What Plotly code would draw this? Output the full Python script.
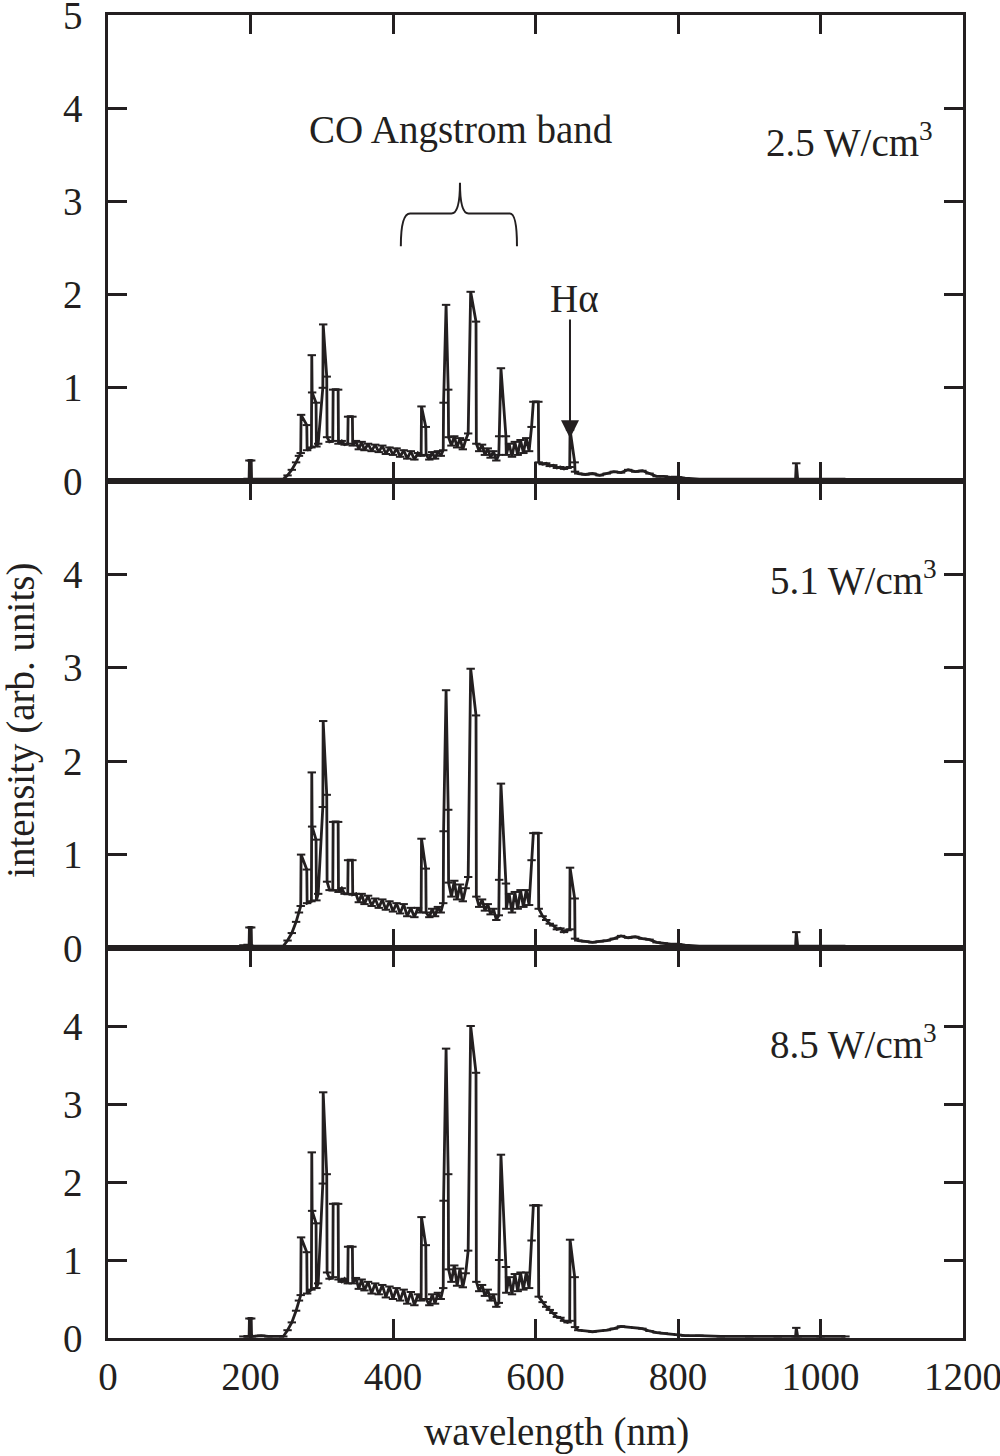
import plotly.graph_objects as go

# ---------------- data ----------------
WAVELENGTH = [190, 198, 198.5, 201, 201.5, 215, 225, 246, 252, 258, 264, 268, 270.5, 271, 279, 279.5,
              285.5, 286, 286.5, 292, 292.5, 295, 301.5, 302, 307, 307.5, 311, 315.5, 316, 323, 323.5,
              328, 332, 336.5, 337, 343, 343.5, 348, 352, 356, 360, 365, 370, 375, 380, 385, 390, 395,
              400, 405, 410, 415, 420, 425, 430, 435, 439.5, 440, 446, 446.5, 451, 455, 459, 463, 467,
              470.5, 471, 474.5, 477.5, 478, 482, 486, 490, 494, 498, 502, 505.5, 509, 516.5, 517, 521,
              525, 529, 533, 537, 541, 545, 548.5, 549, 551.5, 558.5, 559, 563, 567, 571, 575, 579, 583,
              587, 591, 594.5, 597, 604, 604.5, 610, 615, 620, 625, 630, 635, 640, 645, 648, 648.5, 655,
              655.5, 660, 670, 680, 690, 700, 710, 720, 730, 740, 750, 760, 770, 780, 790, 800, 810,
              830, 860, 900, 940, 965, 966, 968, 1000, 1035]

I_25 = [0.02, 0.02, 0.22, 0.22, 0.02, 0.02, 0.02, 0.02, 0.06, 0.12, 0.20, 0.27, 0.30, 0.71, 0.60, 0.33,
        0.36, 1.35, 0.95, 0.84, 0.37, 0.40, 1.00, 1.68, 1.12, 0.47, 0.42, 0.43, 0.98, 0.98, 0.40,
        0.43, 0.39, 0.40, 0.69, 0.69, 0.38, 0.43, 0.34, 0.42, 0.33, 0.40, 0.32, 0.39, 0.31, 0.38, 0.29, 0.36,
        0.28, 0.35, 0.26, 0.33, 0.24, 0.32, 0.23, 0.30, 0.27, 0.80, 0.58, 0.28, 0.23, 0.31, 0.24, 0.32, 0.27,
        0.33, 0.84, 1.89, 0.98, 0.47, 0.38, 0.48, 0.36, 0.46, 0.34, 0.44, 0.51, 2.03, 1.71, 0.40, 0.32,
        0.39, 0.28, 0.35, 0.25, 0.32, 0.22, 0.28, 0.48, 1.21, 0.48, 0.28, 0.40, 0.26, 0.42, 0.28, 0.44, 0.30,
        0.46, 0.32, 0.58, 0.85, 0.85, 0.20, 0.18, 0.19, 0.16, 0.17, 0.14, 0.15, 0.13, 0.14, 0.15, 0.55, 0.20,
        0.10, 0.08, 0.07, 0.08, 0.06, 0.08, 0.10, 0.09, 0.12, 0.10, 0.11, 0.08, 0.05, 0.05, 0.04, 0.04, 0.03,
        0.02, 0.02, 0.02, 0.02, 0.02, 0.19, 0.02, 0.02, 0.02]

I_51 = [0.03, 0.03, 0.22, 0.22, 0.02, 0.02, 0.02, 0.02, 0.08, 0.16, 0.28, 0.38, 0.45, 1.00, 0.84, 0.48,
        0.50, 1.88, 1.30, 1.16, 0.51, 0.58, 1.51, 2.43, 1.64, 0.71, 0.62, 0.62, 1.35, 1.35, 0.60,
        0.64, 0.58, 0.58, 0.94, 0.94, 0.57, 0.58, 0.49, 0.58, 0.47, 0.56, 0.45, 0.53, 0.43, 0.52, 0.41, 0.50,
        0.39, 0.48, 0.37, 0.47, 0.34, 0.43, 0.33, 0.43, 0.38, 1.17, 0.85, 0.38, 0.33, 0.42, 0.34, 0.44, 0.38,
        0.48, 1.25, 2.76, 1.48, 0.70, 0.55, 0.72, 0.52, 0.68, 0.50, 0.64, 0.76, 2.99, 2.49, 0.55, 0.44,
        0.52, 0.40, 0.47, 0.36, 0.42, 0.30, 0.35, 0.73, 1.76, 0.69, 0.42, 0.58, 0.38, 0.60, 0.42, 0.62, 0.44,
        0.62, 0.46, 0.94, 1.23, 1.23, 0.42, 0.34, 0.30, 0.26, 0.24, 0.20, 0.21, 0.17, 0.19, 0.20, 0.86, 0.53,
        0.10, 0.08, 0.07, 0.06, 0.07, 0.08, 0.10, 0.13, 0.11, 0.12, 0.10, 0.09, 0.06, 0.05, 0.04, 0.04, 0.03,
        0.02, 0.02, 0.02, 0.02, 0.02, 0.17, 0.02, 0.02, 0.02]

I_85 = [0.02, 0.02, 0.25, 0.25, 0.02, 0.03, 0.02, 0.02, 0.10, 0.20, 0.35, 0.48, 0.55, 1.29, 1.10, 0.57,
        0.62, 2.38, 1.63, 1.47, 0.64, 0.70, 1.98, 3.15, 2.10, 0.84, 0.76, 0.78, 1.72, 1.72, 0.75,
        0.72, 0.76, 0.70, 1.17, 1.17, 0.70, 0.77, 0.63, 0.75, 0.61, 0.72, 0.57, 0.70, 0.56, 0.68, 0.52, 0.66,
        0.50, 0.64, 0.48, 0.62, 0.44, 0.59, 0.42, 0.56, 0.48, 1.55, 1.19, 0.50, 0.42, 0.56, 0.44, 0.58, 0.50,
        0.64, 1.76, 3.71, 2.10, 0.88, 0.72, 0.93, 0.67, 0.89, 0.65, 0.83, 1.12, 4.00, 3.40, 0.72, 0.60,
        0.68, 0.54, 0.62, 0.48, 0.56, 0.40, 0.45, 1.00, 2.35, 0.91, 0.58, 0.78, 0.56, 0.82, 0.60, 0.84, 0.62,
        0.84, 0.64, 1.25, 1.70, 1.70, 0.53, 0.46, 0.40, 0.36, 0.32, 0.27, 0.26, 0.22, 0.20, 0.22, 1.26, 0.78,
        0.14, 0.10, 0.09, 0.08, 0.09, 0.10, 0.12, 0.15, 0.14, 0.13, 0.12, 0.09, 0.07, 0.06, 0.05, 0.04, 0.03,
        0.03, 0.02, 0.02, 0.02, 0.02, 0.13, 0.02, 0.02, 0.02]

POWER_LABELS = ["2.5 W/cm<sup>3</sup>", "5.1 W/cm<sup>3</sup>", "8.5 W/cm<sup>3</sup>"]
X_TICKS = [0, 200, 400, 600, 800, 1000, 1200]
Y_TICKS_TOP = [0, 1, 2, 3, 4, 5]
Y_TICKS = [0, 1, 2, 3, 4]

# ---------------- styling ----------------
INK = "#231f20"
FONT = dict(family="Liberation Serif, Times New Roman, serif", size=39, color=INK)

H_TOTAL = 1323.0
D1 = (1338 - 481) / H_TOTAL
D2 = (1338 - 948) / H_TOTAL

fig = go.Figure()
series = [I_25, I_51, I_85]
for i, vals in enumerate(series):
    sfx = "" if i == 0 else str(i + 1)
    fig.add_trace(go.Scatter(x=WAVELENGTH, y=vals, mode="lines+markers",
                             line=dict(color=INK, width=2.8),
                             marker=dict(symbol="line-ew", size=6, color=INK,
                                         line=dict(color=INK, width=2)),
                             xaxis="x" + sfx, yaxis="y" + sfx,
                             showlegend=False, hoverinfo="skip"))

axis_common = dict(showline=True, linewidth=2.5, linecolor=INK, mirror="ticks",
                   ticks="inside", ticklen=19, tickwidth=2.5, tickcolor=INK,
                   showgrid=False, zeroline=False, tickfont=FONT,
                   automargin=False, ticklabeloverflow="allow")

fig.update_layout(
    template="none",
    width=1000, height=1456,
    margin=dict(l=108, r=37, t=15, b=118, autoexpand=False),
    paper_bgcolor="white", plot_bgcolor="white",
    font=FONT,
    xaxis=dict(domain=[0, 1], anchor="y", range=[0, 1200], tickvals=X_TICKS,
               showticklabels=False, **axis_common),
    xaxis2=dict(domain=[0, 1], anchor="y2", matches="x", range=[0, 1200], tickvals=X_TICKS,
                showticklabels=False, **axis_common),
    xaxis3=dict(domain=[0, 1], anchor="y3", matches="x", range=[0, 1200], tickvals=X_TICKS,
                showticklabels=True, ticklabelstandoff=2, **axis_common),
    yaxis=dict(domain=[D1, 1], anchor="x", range=[0, 5], tickvals=Y_TICKS_TOP,
               ticklabelstandoff=15, **axis_common),
    yaxis2=dict(domain=[D2, D1], anchor="x2", range=[0, 5], tickvals=Y_TICKS,
                ticklabelstandoff=15, **axis_common),
    yaxis3=dict(domain=[0, D2], anchor="x3", range=[0, 5], tickvals=Y_TICKS,
                ticklabelstandoff=15, **axis_common),
)

ann = []
# power density labels
ann.append(dict(x=1161, y=3.66, xref="x", yref="y", text=POWER_LABELS[0], showarrow=False,
                xanchor="right", yanchor="middle", font=FONT))
ann.append(dict(x=1166, y=3.96, xref="x2", yref="y2", text=POWER_LABELS[1], showarrow=False,
                xanchor="right", yanchor="middle", font=FONT))
ann.append(dict(x=1166, y=3.80, xref="x3", yref="y3", text=POWER_LABELS[2], showarrow=False,
                xanchor="right", yanchor="middle", font=FONT))
# CO band label
ann.append(dict(x=495, y=3.77, xref="x", yref="y", text="CO Angstrom band", showarrow=False,
                xanchor="center", yanchor="middle", font=FONT))
# H alpha label and arrow
ann.append(dict(x=655, y=1.96, xref="x", yref="y", text="Hα", showarrow=False,
                xanchor="center", yanchor="middle", font=FONT))
ann.append(dict(x=648.4, y=0.46, xref="x", yref="y", ax=648.4, ay=1.75, axref="x", ayref="y",
                text="", showarrow=True, arrowhead=2, arrowsize=1.8, arrowwidth=2, arrowcolor=INK))
# axis titles
ann.append(dict(x=-0.101, y=0.467, xref="paper", yref="paper", text="intensity (arb. units)",
                textangle=-90, showarrow=False, xanchor="center", yanchor="middle", font=FONT))
ann.append(dict(x=0.524, y=-0.071, xref="paper", yref="paper", text="wavelength (nm)",
                showarrow=False, xanchor="center", yanchor="middle", font=FONT))
fig.update_layout(annotations=ann)

# brace over the CO Angstrom band
fig.add_shape(type="path", xref="x", yref="y",
              path="M 411,2.52 Q 411,2.87 424,2.87 L 482,2.87 Q 494,2.87 494,3.20 "
                   "Q 494,2.87 506,2.87 L 564,2.87 Q 574,2.87 574,2.52",
              line=dict(color=INK, width=2))

fig.write_html("out.html")
